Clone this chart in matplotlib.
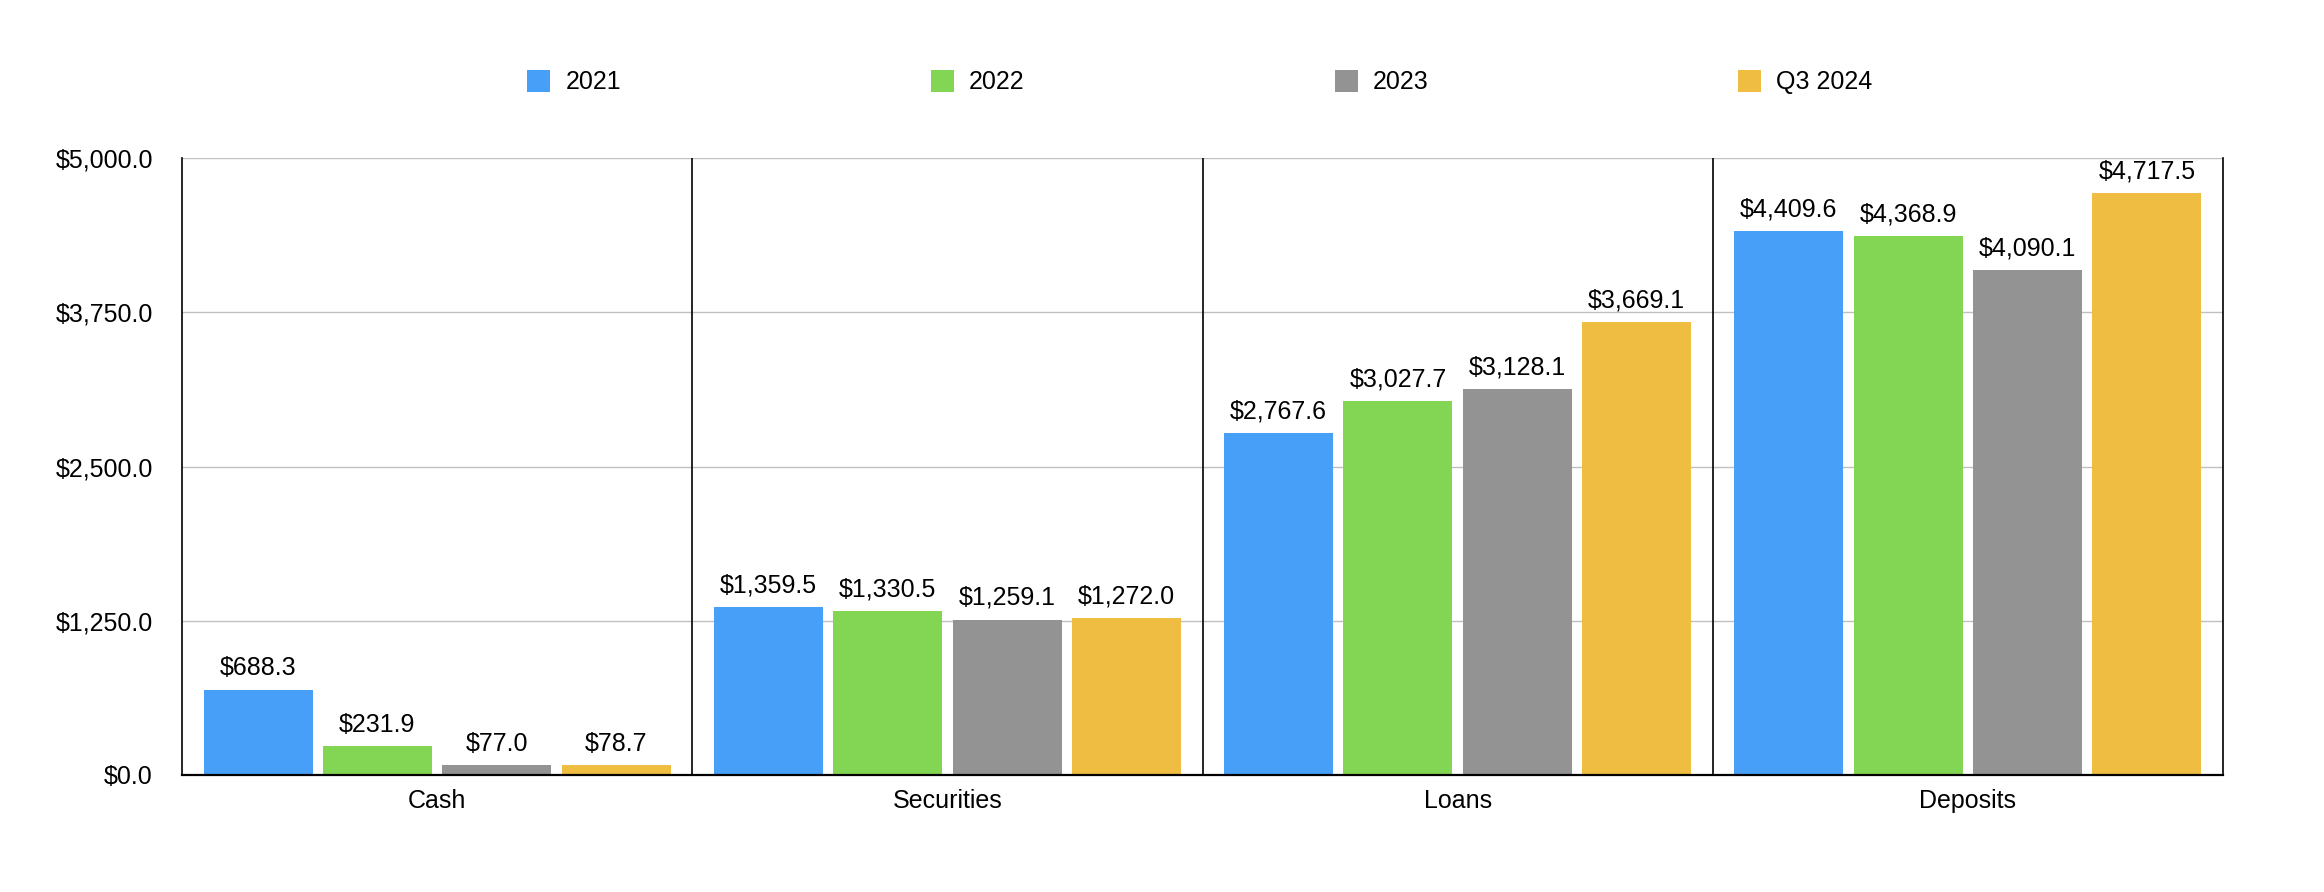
import matplotlib
matplotlib.use("Agg")
import matplotlib.pyplot as plt
from matplotlib.patches import Patch
from matplotlib.ticker import FuncFormatter

categories = ["Cash", "Securities", "Loans", "Deposits"]
series_names = ["2021", "2022", "2023", "Q3 2024"]
v2021 = [688.3, 1359.5, 2767.6, 4409.6]
v2022 = [231.9, 1330.5, 3027.7, 4368.9]
v2023 = [77.0, 1259.1, 3128.1, 4090.1]
vq3_2024 = [78.7, 1272.0, 3669.1, 4717.5]
colors = ["#489ff8", "#83d654", "#939393", "#efbd42"]
yticks = [0, 1250, 2500, 3750, 5000]

plt.rcParams["font.family"] = ["Liberation Sans", "DejaVu Sans"]
plt.rcParams["font.size"] = 18

fig = plt.figure(figsize=(23.24, 8.92), dpi=100)
ax = fig.add_axes([182 / 2324, 1 - 775 / 892, (2223 - 182) / 2324, (775 - 158) / 892])

step = 0.234
width = 0.2136
x = list(range(len(categories)))
all_vals = [v2021, v2022, v2023, vq3_2024]
for i, vals in enumerate(all_vals):
    pos = [xi + (i - 1.5) * step for xi in x]
    bars = ax.bar(pos, vals, width=width, color=colors[i], zorder=3)
    ax.bar_label(bars, labels=["${:,.1f}".format(v) for v in vals], padding=7, fontsize=18)

ax.set_xlim(-0.5, len(categories) - 0.5)
ax.set_ylim(0, 5000)
ax.set_yticks(yticks)
ax.yaxis.set_major_formatter(FuncFormatter(lambda v, p: "${:,.1f}".format(v)))
ax.set_xticks(x)
ax.set_xticklabels(categories)
ax.tick_params(axis="y", length=0, pad=21)
ax.tick_params(axis="x", length=0, pad=10)
ax.grid(axis="y", color="#c0c0c0", linewidth=1.0, zorder=0)

for b in [0.5, 1.5, 2.5]:
    ax.axvline(b, color="black", linewidth=1.2, zorder=4)

ax.spines["top"].set_visible(False)
ax.spines["left"].set_linewidth(1.2)
ax.spines["right"].set_linewidth(1.2)
ax.spines["bottom"].set_linewidth(1.6)
ax.spines["bottom"].set_zorder(5)

handles = [Patch(facecolor=c, edgecolor="none") for c in colors]
fig.legend(handles, series_names, loc="center", bbox_to_anchor=(1200 / 2324, 1 - 82 / 892),
           ncol=4, frameon=False, handlelength=0.92, handleheight=1.0,
           handletextpad=0.6, columnspacing=12.4, fontsize=18)

fig.savefig("out.png", dpi=100, facecolor="white")
